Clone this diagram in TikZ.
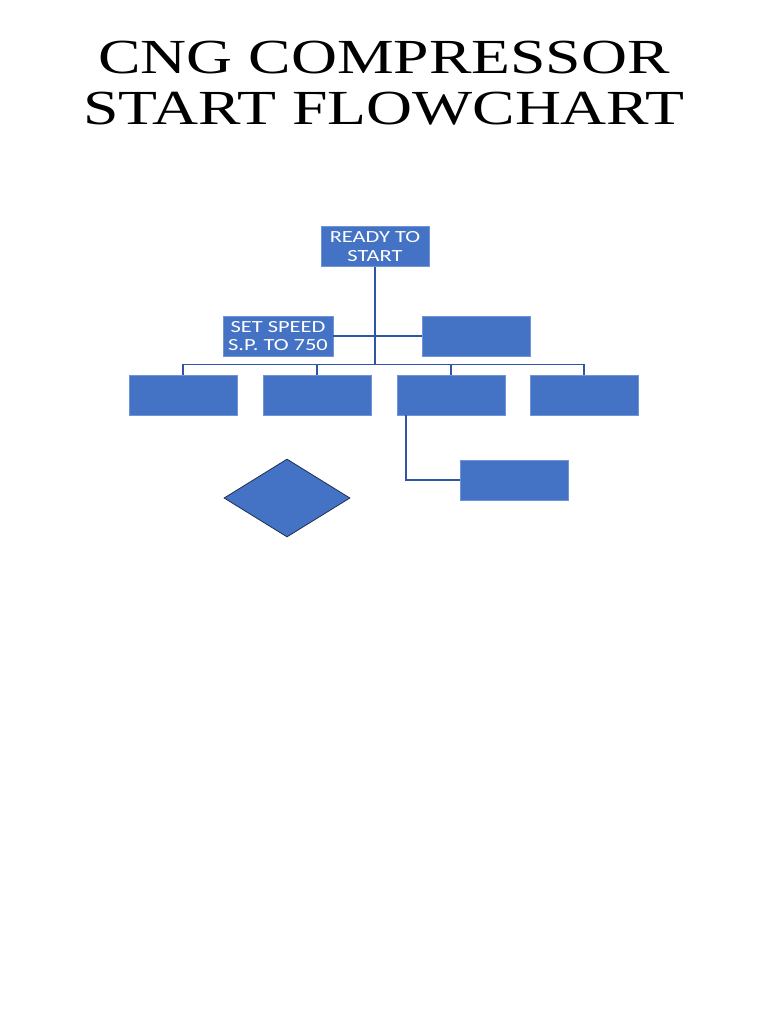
\documentclass[tikz,border=0pt]{standalone}
\usepackage{fontspec}
\setmainfont{Liberation Serif}
\newfontfamily\boxfont{Carlito}
\usetikzlibrary{shapes.geometric}
\definecolor{boxblue}{HTML}{4472C4}
\definecolor{lineblue}{HTML}{2F55A8}
\definecolor{edgeblue}{HTML}{6F95D8}
\definecolor{diaedge}{HTML}{1F3050}
\newcommand{\stretchtxt}[1]{\scalebox{1.32}[1]{#1}}
\newcommand{\stretchtitle}[1]{\scalebox{1.30}[1]{#1}}
\tikzset{
  fbox/.style={rectangle, fill=boxblue, draw=edgeblue, line width=0.6pt, minimum width=108pt, minimum height=40pt, inner sep=0pt, align=center, text=white, font=\boxfont\fontsize{17}{18.5}\selectfont},
  conn/.style={draw=lineblue, line width=1.5pt},
  titletext/.style={font=\fontsize{49}{50}\selectfont, anchor=base, inner sep=0pt}
}
\begin{document}
\begin{tikzpicture}[x=1pt,y=-1pt]
\useasboundingbox (0,0) rectangle (768,1024);
\node[titletext] (t1) at (384,74) {\stretchtitle{CNG COMPRESSOR}};
\node[titletext] (t2) at (384,125) {\stretchtitle{START FLOWCHART}};
\node[fbox] (ready) at (375,246.5) {\stretchtxt{READY TO}\\\stretchtxt{START}};
\node[fbox, minimum width=110pt] (speed) at (278,336) {\stretchtxt{SET SPEED}\\\stretchtxt{S.P. TO 750}};
\node[fbox] (rbox) at (476,336) {};
\node[fbox] (b1) at (183,395) {};
\node[fbox] (b2) at (317,395) {};
\node[fbox] (b3) at (451,395) {};
\node[fbox] (b4) at (584,395) {};
\node[fbox] (b5) at (514,480) {};
\node[diamond, fill=boxblue, draw=diaedge, line width=0.8pt, minimum width=126pt, minimum height=78pt, inner sep=0pt] (dia) at (287,498) {};
\coordinate (bus) at (375,364.5);
\draw[conn] (ready.south) -- (bus);
\draw[conn] (speed.east) -- (rbox.west);
\draw[conn] (b1.north) |- (bus) -| (b4.north);
\draw[conn] (b2.north) -- (b2.north |- bus);
\draw[conn] (b3.north) -- (b3.north |- bus);
\draw[conn] ([xshift=-45pt]b3.south) |- (b5.west);
\end{tikzpicture}
\end{document}
